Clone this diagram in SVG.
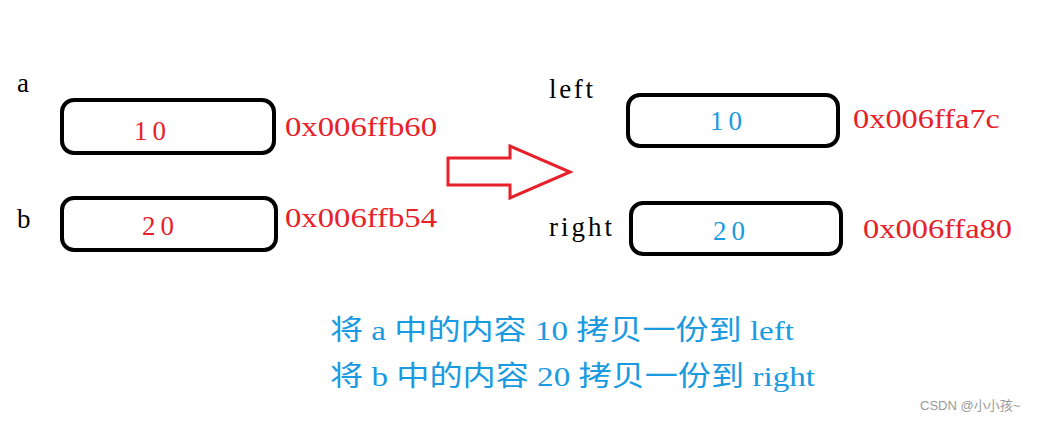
<svg xmlns="http://www.w3.org/2000/svg" width="1053" height="422" viewBox="0 0 1053 422">
<style>
.box{fill:none;stroke:#000;stroke-width:4}
text{font-family:"Liberation Serif","Noto Sans CJK SC",serif}
.lbl{font-size:27px;fill:#000}
.red{fill:#e8202a;font-size:28px}
.blue{fill:#1a9ae0;font-size:28px}
.num{font-size:27px}
</style>
<rect width="1053" height="422" fill="#fff"/>
<g id="a"><text class="lbl" x="17" y="92">a</text><rect class="box" x="62" y="100" width="212" height="53" rx="12"/><text class="red num" x="134" y="140" textLength="32">10</text><text class="red" x="285" y="136" textLength="152" lengthAdjust="spacingAndGlyphs">0x006ffb60</text></g>
<g id="b"><text class="lbl" x="17" y="228">b</text><rect class="box" x="62" y="198" width="214" height="52" rx="12"/><text class="red num" x="142" y="235" textLength="32">20</text><text class="red" x="285" y="227" textLength="152" lengthAdjust="spacingAndGlyphs">0x006ffb54</text></g>
<g id="left"><text class="lbl" x="549" y="98" textLength="44">left</text><rect class="box" x="628" y="95" width="210" height="51" rx="12"/><text class="blue num" x="710" y="130" textLength="32">10</text><text class="red" x="853" y="128" textLength="147" lengthAdjust="spacingAndGlyphs">0x006ffa7c</text></g>
<g id="right"><text class="lbl" x="549" y="236" textLength="63">right</text><rect class="box" x="631" y="203" width="210" height="51" rx="12"/><text class="blue num" x="713" y="240" textLength="32">20</text><text class="red" x="863" y="238" textLength="149" lengthAdjust="spacingAndGlyphs">0x006ffa80</text></g>
<g id="connectors"><polygon points="448,158 510,158 510,146 570,172 510,198 510,185 448,185" fill="none" stroke="#e8202a" stroke-width="3"/></g>
<g id="caption"><text class="blue" x="330" y="340" textLength="464" lengthAdjust="spacingAndGlyphs">将 a 中的内容 10 拷贝一份到 left</text><text class="blue" x="330" y="386" textLength="485" lengthAdjust="spacingAndGlyphs">将 b 中的内容 20 拷贝一份到 right</text></g>
<text x="920" y="410" font-size="13" fill="#999" style="font-family:'Liberation Sans','Noto Sans CJK SC',sans-serif">CSDN @小小孩~</text>
</svg>
